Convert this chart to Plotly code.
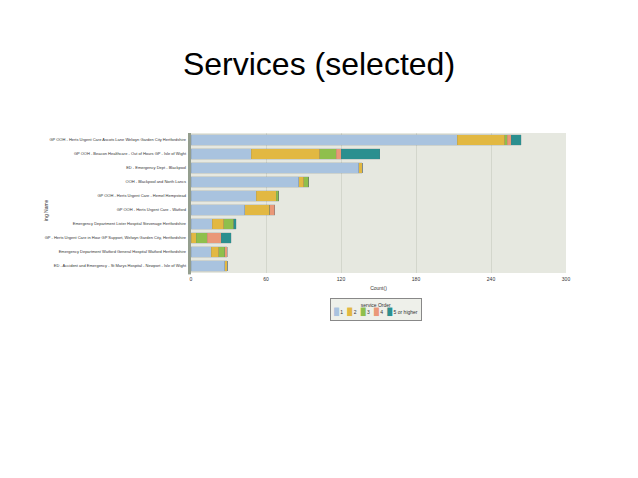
import plotly.graph_objects as go

# providers, top to bottom as drawn
providers = [
    "GP OOH - Herts Urgent Care Ascots Lane Welwyn Garden City Hertfordshire",
    "GP OOH - Beacon Healthcare - Out of Hours GP - Isle of Wight",
    "ED - Emergency Dept - Blackpool",
    "OOH - Blackpool and North Lancs",
    "GP OOH - Herts Urgent Care - Hemel Hempstead",
    "GP OOH - Herts Urgent Care - Watford",
    "Emergency Department Lister Hospital Stevenage Hertfordshire",
    "GP - Herts Urgent Care in Hour GP Support, Welwyn Garden City, Hertfordshire",
    "Emergency Department Watford General Hospital Watford Hertfordshire",
    "ED - Accident and Emergency - St Marys Hospital - Newport - Isle of Wight",
]

# counts per service order
order_1 = [213, 48, 134, 86, 52, 43, 17, 0, 16, 27]
order_2 = [38, 55, 3, 4, 16, 20, 9, 4, 6, 2]
order_3 = [2, 13, 0, 4, 2, 0, 8, 9, 5, 0]
order_4 = [3, 4, 0, 0, 0, 4, 0, 11, 2, 0]
order_5_plus = [8, 31, 0, 0, 0, 0, 2, 8, 0, 0]

series_names = ["1", "2", "3", "4", "5 or higher"]
x_ticks = [0, 60, 120, 180, 240, 300]

colors = ["#a9c3df", "#e2b842", "#8fbf4c", "#ea9878", "#2b8f8f"]

fig = go.Figure()
for name, vals, col in zip(series_names,
                           [order_1, order_2, order_3, order_4, order_5_plus],
                           colors):
    fig.add_trace(go.Bar(
        y=providers, x=vals, name=name, orientation="h", showlegend=False,
        marker=dict(color=col, line=dict(color="rgba(90,110,120,0.35)", width=0.5)),
    ))

# compact legend box like the original (native legend can't get this small)
legend_items = "   ".join(
    f"<span style='color:{c};font-size:7px'>█</span> {n}"
    for n, c in zip(series_names, colors))

# page has an 8px body margin, so margins are shifted by 8px up/left
fig.update_layout(
    width=638, height=478,
    paper_bgcolor="white",
    plot_bgcolor="#e6e8e0",
    barmode="stack",
    bargap=0.25,
    margin=dict(l=183, r=80, t=125, b=213, autoexpand=False),
    font=dict(family="Liberation Sans, Arial, sans-serif", size=5, color="#333"),
    title=dict(text="Services (selected)", x=(319 - 8) / 638, xref="container",
               xanchor="center", y=1 - 56 / 478, yref="container", yanchor="middle",
               font=dict(size=32, color="black")),
    xaxis=dict(range=[0, 300], tickvals=x_ticks, showgrid=True,
               gridcolor="#d3d6cc", zeroline=False, automargin=False,
               ticks="", ticklabelstandoff=2,
               title=dict(text="Count()", font=dict(size=5), standoff=5),
               tickfont=dict(size=5)),
    yaxis=dict(autorange="reversed", tickfont=dict(size=4), ticks="",
               ticklabelstandoff=4, showgrid=False, automargin=False),
    shapes=[dict(type="rect", xref="paper", yref="paper",
                 x0=-0.008, x1=0, y0=-0.01, y1=1.0,
                 fillcolor="#949e8e", line=dict(width=0))],
    annotations=[
        dict(text="ing Name", textangle=-90, xref="paper", yref="paper",
             x=-0.40, y=0.45, showarrow=False,
             font=dict(size=5, color="#333")),
        dict(text="service Order<br>" + legend_items,
             xref="paper", yref="paper", x=0.493, y=-0.175,
             xanchor="center", yanchor="top", showarrow=False, align="center",
             bgcolor="#eef0ea", bordercolor="#888", borderwidth=1, borderpad=3,
             font=dict(size=5, color="#333")),
    ],
)

fig.write_html("out.html")
